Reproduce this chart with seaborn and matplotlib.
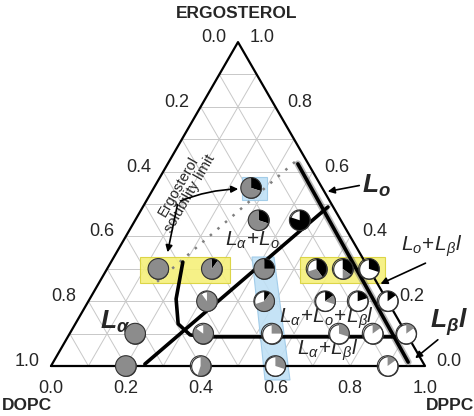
import numpy as np
import pandas as pd
import matplotlib
matplotlib.use("Agg")
import matplotlib.pyplot as plt
from matplotlib.patches import Wedge, Polygon, Rectangle
import seaborn as sns

sns.set_theme(style="white")
plt.rcParams['font.family'] = ['Liberation Sans', 'DejaVu Sans']
plt.rcParams['mathtext.fontset'] = 'custom'
plt.rcParams['mathtext.it'] = 'Liberation Sans:italic'
plt.rcParams['mathtext.rm'] = 'Liberation Sans'
plt.rcParams['mathtext.bf'] = 'Liberation Sans:italic:bold'

S3 = np.sqrt(3) / 2

# compositions: DPPC fraction, ergosterol fraction, pie fractions (gray, black)
pt_dppc = [0.20, 0.40, 0.60, 0.90,
           0.175, 0.357, 0.54, 0.72, 0.81, 0.90,
           0.317, 0.47, 0.633, 0.72, 0.80,
           0.137, 0.28, 0.42, 0.56, 0.63, 0.70,
           0.33, 0.44, 0.26]
pt_erg = [0.0] * 4 + [0.1] * 6 + [0.2] * 5 + [0.3] * 6 + [0.45, 0.45, 0.55]
pt_gray = [1.0, 0.55, 0.3, 0.15,
           1.0, 0.85, 0.25, 0.3, 0.15, 0.15,
           0.9, 0.6, 0.15, 0.0, 0.0,
           1.0, 0.9, 0.75, 0.3, 0.15, 0.0,
           0.7, 0.0, 0.7]
pt_black = [0.0, 0.0, 0.0, 0.0,
            0.0, 0.0, 0.0, 0.0, 0.0, 0.0,
            0.0, 0.1, 0.15, 0.2, 0.15,
            0.0, 0.1, 0.25, 0.4, 0.35, 0.3,
            0.3, 0.8, 0.3]

lo_line = ([0.348, 0.949], [0.624, 0.012])
diag_line = ([0.248, 0.495], [0.006, 0.491])
curve_line = ([0.192, 0.231, 0.275, 0.324, 0.367, 0.902],
              [0.321, 0.207, 0.130, 0.096, 0.090, 0.090])
solub_line = ([0.337, 0.147], [0.63, 0.247])

ticks = [0.0, 0.2, 0.4, 0.6, 0.8, 1.0]


def xy(d, e):
    d = np.asarray(d, float); e = np.asarray(e, float)
    return d + e / 2, e * S3


def px(x, y):
    return (x - 51) / 374, (366 - y) / 374


fig = plt.figure(figsize=(4.74, 4.16), dpi=100)
ax = fig.add_axes([0, 0, 1, 1])
ax.set_xlim(-51 / 374, 423 / 374)
ax.set_ylim(-50 / 374, 366 / 374)
ax.axis('off')

# grid
for k in np.arange(0.1, 1.0, 0.1):
    for a, b in [(xy([k, k], [0, 1 - k])), (xy([0, 1 - k], [k, k])), (xy([0, k], [k, 0]))]:
        ax.plot(a, b, color='#c8c8c8', lw=0.7, zorder=1)
tri = xy([0, 1, 0, 0], [0, 0, 1, 0])
ax.plot(*tri, color='black', lw=1.6, zorder=2)

# highlight boxes
for (x0, y0, x1, y1), c in [((140, 257, 230, 283), '#f5f07a'), ((300, 257, 385, 283), '#f5f07a'),
                            ((242, 177, 267, 200), '#bfe0f5')]:
    a0, b0 = px(x0, y1); a1, b1 = px(x1, y0)
    ax.add_patch(Rectangle((a0, b0), a1 - a0, b1 - b0, facecolor=c, edgecolor='#d9d23a' if c != '#bfe0f5' else '#9cc9e8',
                           lw=0.8, zorder=1.5, alpha=0.9))
ax.add_patch(Polygon([px(252, 257), px(274, 257), px(290, 380), px(265, 380)], closed=True,
                     facecolor='#bfe0f5', edgecolor='#9cc9e8', lw=0.8, zorder=1.5, alpha=0.9))

# lines
ax.plot(*xy(*solub_line), ls=(0, (1, 3)), color='gray', lw=1.8, zorder=3)
ax.plot(*xy(*lo_line), color='#777777', lw=5, alpha=0.5, zorder=3)
for ln in [lo_line, diag_line, curve_line]:
    ax.plot(*xy(*ln), color='black', lw=2.6, zorder=3, solid_capstyle='round')

# points
X, Y = xy(pt_dppc, pt_erg)
df = pd.DataFrame({'x': X, 'y': Y})
sns.scatterplot(data=df, x='x', y='y', s=200, color='white', edgecolor='#333333', linewidth=0.8, ax=ax, zorder=4)
r = 10.3 / 374
for x, y, g, b in zip(X, Y, pt_gray, pt_black):
    start = 90
    if b > 0:
        ax.add_patch(Wedge((x, y), r, start - 360 * b, start, facecolor='black', lw=0, zorder=5))
    if g > 0:
        ax.add_patch(Wedge((x, y), r, start - 360 * (b + g), start - 360 * b, facecolor='#8c8c8c', lw=0, zorder=5))
    ax.add_patch(Wedge((x, y), r, 0, 360, facecolor='none', edgecolor='#333333', lw=0.8, zorder=6))
ax.set_xlabel(''); ax.set_ylabel('')

# tick labels
fs = 13
for t in ticks:
    a, b = xy(t, 0)
    ax.text(a, b - 0.06, f"{t:.1f}", ha='center', va='center', fontsize=fs)
    a, b = xy(0, 1 - t)
    ax.text(a - 0.065, b + 0.012, f"{t:.1f}", ha='center', va='center', fontsize=fs)
    a, b = xy(1 - t, t)
    ax.text(a + 0.065, b + 0.012, f"{t:.1f}", ha='center', va='center', fontsize=fs)

ax.text(*px(237, 13), "ERGOSTEROL", ha='center', va='center', fontsize=12.5, fontweight='bold')
ax.text(*px(27, 405), "DOPC", ha='center', va='center', fontsize=12.5, fontweight='bold')
ax.text(*px(450, 405), "DPPC", ha='center', va='center', fontsize=12.5, fontweight='bold')

# phase labels
ax.text(*px(115, 322), r"$\mathbf{L}_{\mathbf{\alpha}}$", fontsize=19, ha='center', va='center')
ax.text(*px(377, 186), r"$\mathbf{L}_{\mathbf{o}}$", fontsize=19, ha='center', va='center')
ax.text(*px(449, 322), r"$\mathbf{L}_{\mathbf{\beta}}\mathbf{l}$", fontsize=19, ha='center', va='center')
ax.text(*px(253, 240), r"$L_{\alpha}\!+\!L_{o}$", fontsize=15, ha='center', va='center')
ax.text(*px(432, 246), r"$L_{o}\!+\!L_{\beta}l$", fontsize=15, ha='center', va='center')
ax.text(*px(327, 318), r"$L_{\alpha}\!+\!L_{o}\!+\!L_{\beta}l$", fontsize=15, ha='center', va='center')
ax.text(*px(328, 350), r"$L_{\alpha}\!+\!L_{\beta}l$", fontsize=15, ha='center', va='center')
ax.text(*px(184, 190), "Ergosterol\nsolubility limit", fontsize=10.5, rotation=60, ha='center', va='center',
        linespacing=0.9)

arw = dict(arrowstyle='-|>', color='black', lw=1.2, mutation_scale=10)
ax.annotate("", xy=px(325, 192), xytext=px(362, 185), arrowprops=arw)
ax.annotate("", xy=px(378, 285), xytext=px(428, 262), arrowprops=arw)
ax.annotate("", xy=px(413, 360), xytext=px(440, 338), arrowprops=arw)
ax.annotate("", xy=px(241, 189), xytext=px(178, 202), arrowprops=dict(arw, connectionstyle='arc3,rad=-0.1'))
ax.annotate("", xy=px(167, 255), xytext=px(178, 202), arrowprops=arw)

fig.savefig("out.png", dpi=100)
